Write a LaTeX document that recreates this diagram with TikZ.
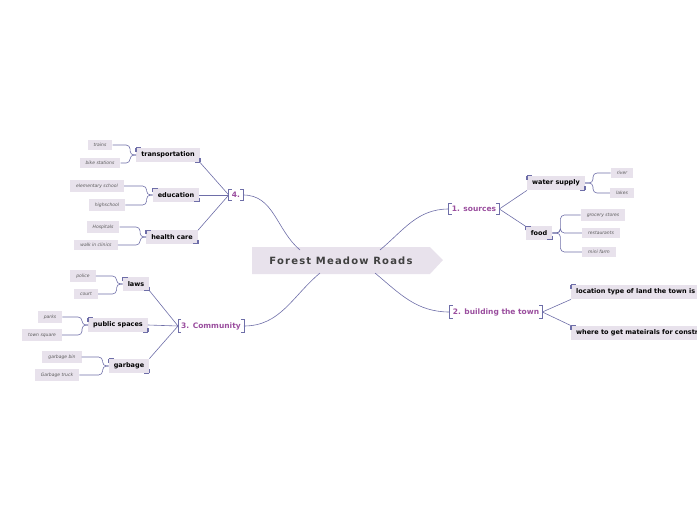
\documentclass[tikz,border=0pt]{standalone}
\usepackage{fontspec}
\setmainfont{DejaVu Sans}
\begin{document}
\begin{tikzpicture}[x=1pt,y=-1pt,
  lk/.style={draw=lineblue,line width=0.6pt},
  leaf/.style={fill=boxfill,font=\fontsize{4.5}{5}\selectfont\itshape,text=gray!70!black,inner xsep=6pt,inner ysep=3.5pt},
  sub/.style={fill=boxfill,font=\fontsize{6.5}{7}\selectfont\bfseries,inner xsep=5pt,inner ysep=4pt,
    append after command={\pgfextra{\let\mynode\tikzlastnode}
      (\mynode.north west) ++(0,4) edge[draw=lineblue,line width=1.3pt,-] (\mynode.north west)
      (\mynode.north west) edge[draw=lineblue,line width=1.3pt,-] ++(5,0)
      (\mynode.south east) ++(0,-4) edge[draw=lineblue,line width=1.3pt,-] (\mynode.south east)
      (\mynode.south east) edge[draw=lineblue,line width=1.3pt,-] ++(-5,0)}},
  main/.style={font=\fontsize{7.5}{8}\selectfont\bfseries,text=mainpurple,inner xsep=3pt,inner ysep=2.5pt,
    append after command={\pgfextra{\let\mynode\tikzlastnode}
      (\mynode.north west) ++(3,0) edge[draw=lineblue,line width=0.8pt,-,to path={-| (\tikztotarget) |- ++(3,0)}] (\mynode.south west)
      (\mynode.north east) ++(-3,0) edge[draw=lineblue,line width=0.8pt,-,to path={-| (\tikztotarget) |- ++(-3,0)}] (\mynode.south east)}}
]
\definecolor{boxfill}{HTML}{E8E2EC}
\definecolor{lineblue}{HTML}{6E6EA8}
\definecolor{mainpurple}{HTML}{9A4E9E}
\useasboundingbox (0,0) rectangle (697,520);
\fill[boxfill] (252,247) -- (430,247) -- (443,260) -- (430,274) -- (252,274) -- cycle;
\node[font=\fontsize{10}{11}\selectfont\bfseries\addfontfeature{LetterSpace=12},text=black!75] (c) at (341,261) {Forest Meadow Roads};
\coordinate (cl) at (300,250); \coordinate (cr) at (380,250); \coordinate (cbl) at (320,273); \coordinate (cbr) at (375,273);

\node[main] (m1) at (474,209) {1. sources};
\node[main] (m2) at (496,312) {2. building the town};
\node[main] (m3) at (211,326) {3. Community};
\node[main] (m4) at (236,195) {4.};
\draw[lk] (cr) to[out=40,in=180] (m1.west);
\draw[lk] (cbr) to[out=-40,in=180] (m2.west);
\draw[lk] (cbl) to[out=-140,in=0] (m3.east);
\draw[lk] (cl) to[out=140,in=0] (m4.east);

\node[sub] (t) at (168,155) {transportation};
\node[sub] (e) at (176,195) {education};
\node[sub] (h) at (172,237) {health care};
\node[sub] (l) at (136,284) {laws};
\node[sub] (p) at (118,325) {public spaces};
\node[sub] (g) at (129,366) {garbage};
\node[sub] (w) at (556,183) {water supply};
\node[sub] (f) at (539,233) {food};
\node[sub,anchor=west] (lo) at (571,292) {location type of land the town is on};
\node[sub,anchor=west] (wh) at (571,333) {where to get mateirals for construction};

\draw[lk] (m4.west) -- (t.south east); \draw[lk] (m4.west) -- (e.east); \draw[lk] (m4.west) -- (h.north east);
\draw[lk] (m3.west) -- (l.south east); \draw[lk] (m3.west) -- (p.east); \draw[lk] (m3.west) -- (g.north east);
\draw[lk] (m1.east) -- (w.south west); \draw[lk] (m1.east) -- (f.north west);
\draw[lk] (m2.east) -- (lo.south west); \draw[lk] (m2.east) -- (wh.north west);

\newcommand{\leavesL}[3]{\draw[lk,rounded corners=4pt] (#1.west) -- ++(-6,0) |- (#2.east); \draw[lk,rounded corners=4pt] (#1.west) -- ++(-6,0) |- (#3.east);}
\newcommand{\leafR}[2]{\draw[lk,rounded corners=4pt] (#1.east) -- ++(8,0) |- (#2.west);}

\node[leaf] (a1) at (100,145) {trains};
\node[leaf] (a2) at (100,163) {bike stations};
\node[leaf] (b1) at (97,186) {elementary school};
\node[leaf] (b2) at (107,205) {highschool};
\node[leaf] (d1) at (103,227) {Hospitals};
\node[leaf] (d2) at (96,245) {walk in clinics};
\node[leaf] (e1) at (83,276) {police};
\node[leaf] (e2) at (86,294) {court};
\node[leaf] (f1) at (50,317) {parks};
\node[leaf] (f2) at (42,335) {town square};
\node[leaf] (g1) at (62,357) {garbage bin};
\node[leaf] (g2) at (57,375) {Garbage truck};
\leavesL{t}{a1}{a2}
\leavesL{e}{b1}{b2}
\leavesL{h}{d1}{d2}
\leavesL{l}{e1}{e2}
\leavesL{p}{f1}{f2}
\leavesL{g}{g1}{g2}

\node[leaf] (r1) at (622,173) {river};
\node[leaf] (r2) at (622,193) {lakes};
\node[leaf] (s1) at (603,215) {grocery stores};
\node[leaf] (s2) at (601,233) {restaurants};
\node[leaf] (s3) at (599,252) {mini farm};
\leafR{w}{r1} \leafR{w}{r2}
\leafR{f}{s1} \leafR{f}{s2} \leafR{f}{s3}
\end{tikzpicture}
\end{document}
